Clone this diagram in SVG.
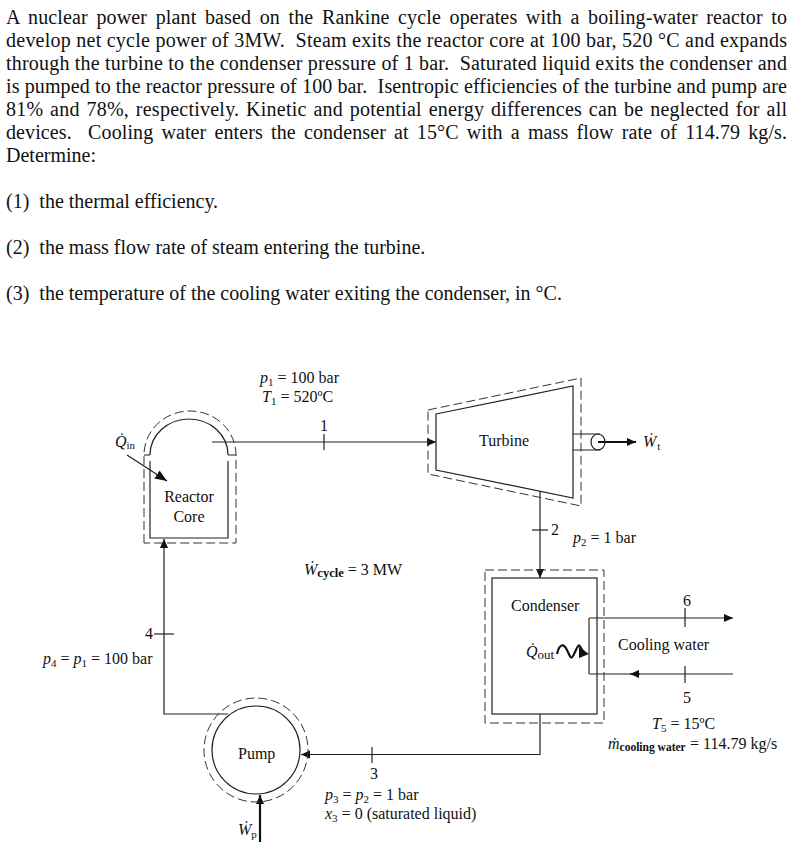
<svg xmlns="http://www.w3.org/2000/svg" width="794" height="850" viewBox="0 0 794 850">
<style>
text{font-family:"Liberation Serif","Times New Roman",serif;fill:#111;white-space:pre}
.p{font-size:20px}
.d{font-size:16px}
.i{font-style:italic}
.s{font-size:11px}
.l{fill:none;stroke:#222;stroke-width:1.2}
.h{fill:none;stroke:#333;stroke-width:1;stroke-dasharray:9 4}
.t{fill:none;stroke:#111;stroke-width:2.2}
</style>
<defs>
<marker id="a" viewBox="0 0 10 10" refX="10" refY="5" markerWidth="9" markerHeight="9" markerUnits="userSpaceOnUse" orient="auto"><path d="M0 0.5L10 5L0 9.5Z" fill="#111"/></marker>
<marker id="b" viewBox="0 0 10 10" refX="10" refY="5" markerWidth="12" markerHeight="12" markerUnits="userSpaceOnUse" orient="auto"><path d="M0 1L10 5L0 9Z" fill="#111"/></marker>
</defs>
<rect width="794" height="850" fill="#fff"/>
<g id="problem">
<text class="p" x="6" y="24" textLength="781" word-spacing="3.4">A nuclear power plant based on the Rankine cycle operates with a boiling-water reactor to</text>
<text class="p" x="6" y="47" textLength="781">develop net cycle power of 3MW.  Steam exits the reactor core at 100 bar, 520 °C and expands</text>
<text class="p" x="6" y="70" textLength="781">through the turbine to the condenser pressure of 1 bar.  Saturated liquid exits the condenser and</text>
<text class="p" x="6" y="93" textLength="781">is pumped to the reactor pressure of 100 bar.  Isentropic efficiencies of the turbine and pump are</text>
<text class="p" x="6" y="116" textLength="781" word-spacing="1.5">81% and 78%, respectively. Kinetic and potential energy differences can be neglected for all</text>
<text class="p" x="6" y="139" textLength="781" word-spacing="3">devices.  Cooling water enters the condenser at 15°C with a mass flow rate of 114.79 kg/s.</text>
<text class="p" x="6" y="162">Determine:</text>
<text class="p" x="6" y="208">(1)  the thermal efficiency.</text>
<text class="p" x="6" y="254">(2)  the mass flow rate of steam entering the turbine.</text>
<text class="p" x="6" y="300">(3)  the temperature of the cooling water exiting the condenser, in °C.</text>
</g>
<g id="connectors">
<path class="l" d="M212 442H436" marker-end="url(#a)"/>
<path class="l" d="M324 434V450"/>
<path class="l" d="M540 491V578" marker-end="url(#a)"/>
<path class="l" d="M532 530H548"/>
<path class="l" d="M540 714V754.500H301" marker-end="url(#a)"/>
<path class="l" d="M372 747V763"/>
<path class="l" d="M228 714H164V539" marker-end="url(#a)"/>
<path class="l" d="M154 634H174"/>
<path class="l" d="M127 455L167 481" marker-end="url(#b)"/>
<path class="t" d="M598 442H636" marker-end="url(#a)"/>
<path class="t" d="M260 842V795" marker-end="url(#a)"/>
<path class="l" d="M589 618H733" marker-end="url(#a)"/>
<path class="l" d="M733 674H589"/>
<path class="l" d="M640 674H630" marker-end="url(#a)"/>
<path class="l" d="M685 608V627M685 666V683"/>
<path d="M557 654C559 645 563 642 567 650S571 661 575 652S579 644 582 650L586 654" fill="none" stroke="#111" stroke-width="2.200"/>
<path d="M579 647L589 654L579 658Z" fill="#111"/>
</g>
<g id="reactor">
<path class="l" d="M150 455A39 36 0 0 1 228 455"/>
<path class="l" d="M150 461V538H228V461"/>
<path class="h" d="M144 543V455A46 44 0 0 1 236 455V543Z"/>
<path class="l" d="M144 455H150M228 455H236"/>
<text class="d" x="189" y="502" text-anchor="middle">Reactor</text>
<text class="d" x="189" y="522" text-anchor="middle">Core</text>
<text class="d i" x="115" y="447">Q&#775;<tspan class="s" dy="2" font-style="normal">in</tspan></text>
</g>
<g id="turbine">
<path class="l" d="M436 414L573 386V498L436 470Z"/>
<path class="h" d="M428 410L581 378V506L428 474Z"/>
<path class="l" d="M573 434H600M573 450H600"/>
<ellipse class="l" cx="598" cy="442" rx="7" ry="8"/>
<text class="d" x="504" y="446" text-anchor="middle">Turbine</text>
</g>
<g id="condenser">
<rect class="l" x="492" y="578" width="105" height="136"/>
<rect class="h" x="485" y="570" width="119" height="153"/>
<path d="M589 618V674" fill="none" stroke="#555" stroke-width="1.500"/>
<text class="d" x="511" y="611">Condenser</text>
<text class="d i" x="526" y="657">Q&#775;<tspan font-style="normal" font-size="13" dy="2">out</tspan></text>
</g>
<g id="pump">
<circle class="l" cx="256" cy="750" r="44"/>
<circle class="h" cx="256" cy="750" r="52"/>
<text class="d" x="238" y="759">Pump</text>
</g>
<g id="labels">
<text class="d" x="260" y="383"><tspan class="i">p</tspan><tspan class="s" dy="3">1</tspan><tspan dy="-3"> = 100 bar</tspan></text>
<text class="d" x="262" y="402"><tspan class="i">T</tspan><tspan class="s" dy="3">1</tspan><tspan dy="-3"> = 520ºC</tspan></text>
<text class="d" x="324" y="431" text-anchor="middle">1</text>
<text class="d" x="555" y="535" text-anchor="middle" font-size="17">2</text>
<text class="d" x="573" y="543"><tspan class="i">p</tspan><tspan class="s" dy="3">2</tspan><tspan dy="-3"> = 1 bar</tspan></text>
<text class="d i" x="643" y="447">W&#775;<tspan class="s" dx="1" dy="3" font-style="normal">t</tspan></text>
<text class="d" x="304" y="575"><tspan class="i">W&#775;</tspan><tspan font-size="12.500" font-weight="bold" dy="2">cycle</tspan><tspan dy="-2"> = 3 MW</tspan></text>
<text class="d" x="149" y="639" text-anchor="middle">4</text>
<text class="d" x="43" y="664"><tspan class="i">p</tspan><tspan class="s" dy="3">4</tspan><tspan dy="-3"> = </tspan><tspan class="i">p</tspan><tspan class="s" dy="3">1</tspan><tspan dy="-3"> = 100 bar</tspan></text>
<text class="d" x="687" y="606" text-anchor="middle">6</text>
<text class="d" x="618" y="650">Cooling water</text>
<text class="d" x="687" y="703" text-anchor="middle">5</text>
<text class="d" x="652" y="729"><tspan class="i">T</tspan><tspan class="s" dy="3">5</tspan><tspan dy="-3"> = 15ºC</tspan></text>
<text class="d" x="608" y="749"><tspan class="i">m&#775;</tspan><tspan font-size="11.500" font-weight="bold" dy="2">cooling water</tspan><tspan x="690" dy="-2">= 114.79 kg/s</tspan></text>
<text class="d" x="374" y="779" text-anchor="middle">3</text>
<text class="d" x="325" y="800"><tspan class="i">p</tspan><tspan class="s" dy="3">3</tspan><tspan dy="-3"> = </tspan><tspan class="i">p</tspan><tspan class="s" dy="3">2</tspan><tspan dy="-3"> = 1 bar</tspan></text>
<text class="d" x="325" y="819"><tspan class="i">x</tspan><tspan class="s" dy="3">3</tspan><tspan dy="-3"> = 0 (saturated liquid)</tspan></text>
<text class="d i" x="238" y="835">W&#775;<tspan class="s" dy="3" font-style="normal">p</tspan></text>
</g>
</svg>
